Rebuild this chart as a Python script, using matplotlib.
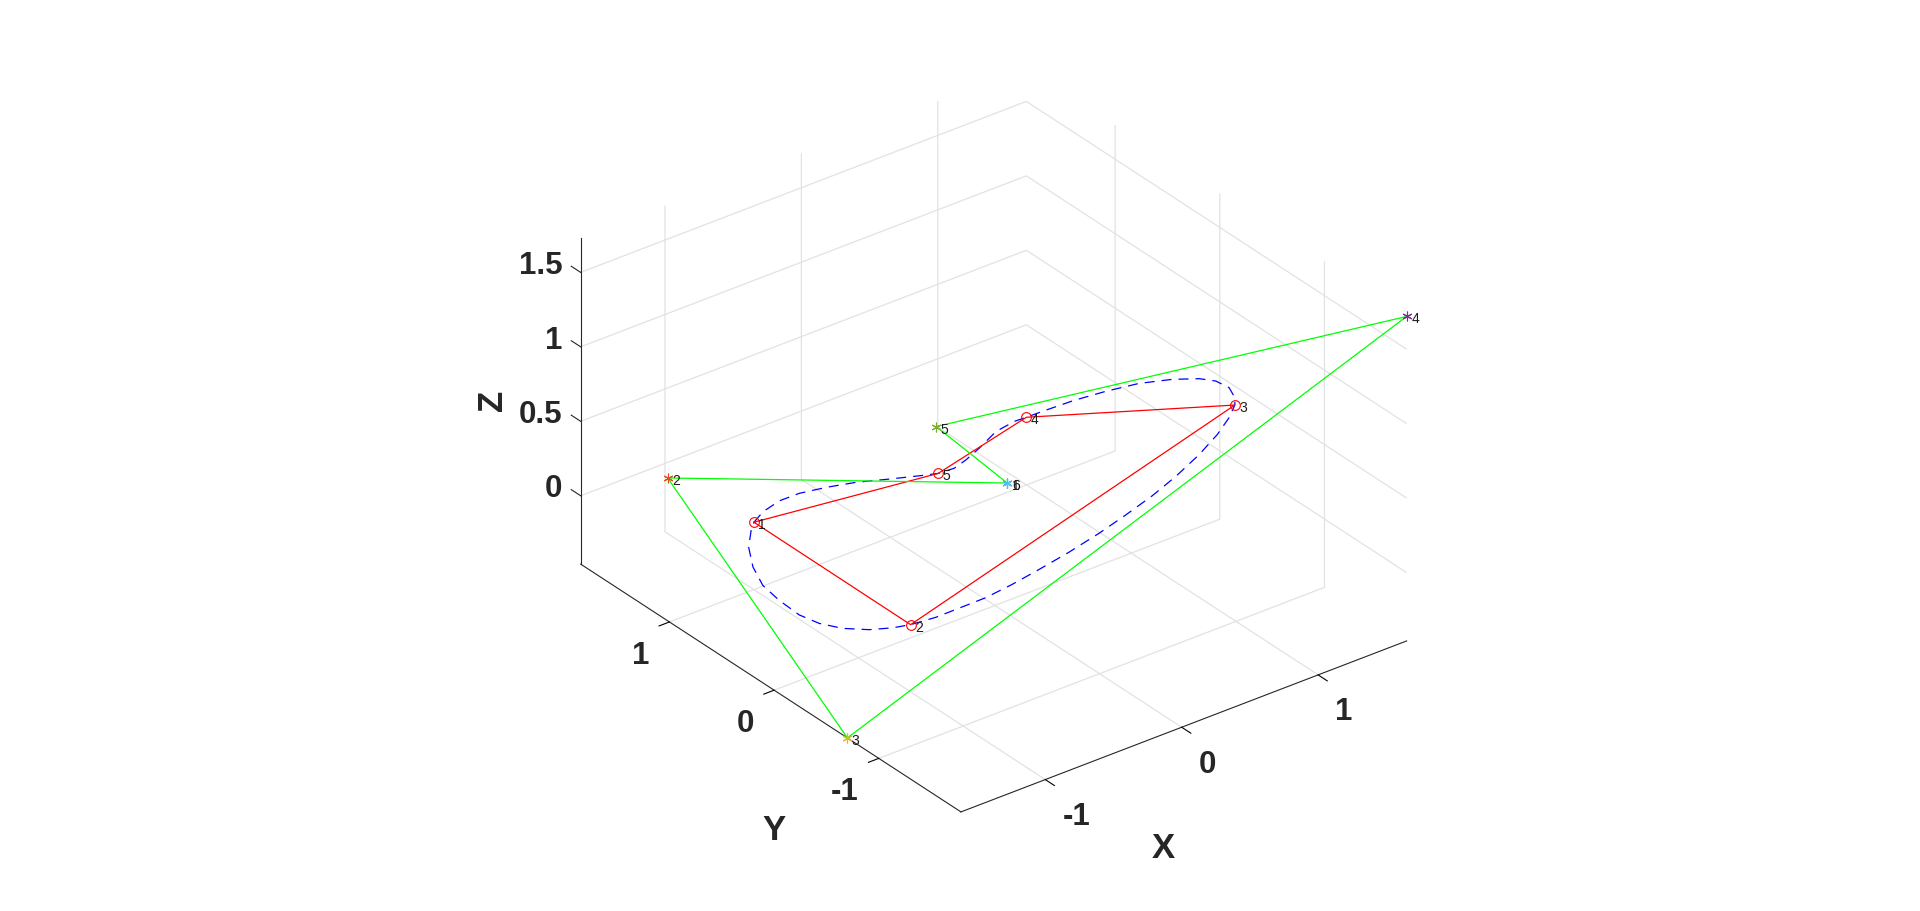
import matplotlib
matplotlib.use('Agg')
import matplotlib.pyplot as plt
from mpl_toolkits.mplot3d import proj3d

plt.rcParams['font.family'] = ['Liberation Sans', 'DejaVu Sans']
plt.rcParams['grid.color'] = '#e2e2e2'
plt.rcParams['grid.linewidth'] = 0.9

# Axis limits and ticks
x_lim = [-1.618, 1.649]
y_lim = [-1.785, 1.848]
z_lim = [-0.459, 1.73]
x_ticks = [-1, 0, 1]
y_ticks = [-1, 0, 1]
z_ticks = [0, 0.5, 1, 1.5]
x_tick_labels = ['-1', '0', '1']
y_tick_labels = ['-1', '0', '1']
z_tick_labels = ['0', '0.5', '1', '1.5']

# Green path with the star markers
green_x = [0.124, -1.407, -1.618, 1.649, 0.196, 0.124]
green_y = [0.043, 1.292, -0.70, -1.785, 0.816, 0.043]
green_z = [0.30, 0.30, -0.459, 1.72, 0.30, 0.30]
green_labels = ['1', '2', '3', '4', '5', '6']
star_colors = ['#0072BD', '#D95319', '#EDB120', '#7E2F8E', '#77AC30', '#4DBEEE']

# Red closed path with the circle markers
red_x = [-0.852, -1.368, 1.416, 0.500, -0.249]
red_y = [1.191, -0.978, -0.447, 0.350, 0.217]
red_z = [-0.146, 0.341, 0.594, 0.469, 0.416]
red_labels = ['1', '2', '3', '4', '5']

# Blue dashed closed curve
curve_x = [-0.852, -0.766, -0.665, -0.586, -0.508, -0.432, -0.365, -0.301, -0.249, -0.149,
           -0.043, 0.093, 0.278, 0.423, 0.500, 0.606, 0.810, 1.001, 1.188, 1.349,
           1.461, 1.510, 1.516, 1.468, 1.416, 1.302, 1.136, 0.921, 0.674, 0.443,
           0.202, -0.035, -0.288, -0.531, -0.741, -0.942, -1.133, -1.279, -1.368, -1.416,
           -1.459, -1.486, -1.481, -1.448, -1.372, -1.288, -1.170, -1.034, -0.912, -0.852]
curve_y = [1.191, 1.217, 1.190, 1.103, 0.949, 0.762, 0.533, 0.329, 0.217, 0.194,
           0.220, 0.270, 0.351, 0.364, 0.350, 0.334, 0.297, 0.242, 0.170, 0.062,
           -0.049, -0.143, -0.262, -0.381, -0.447, -0.540, -0.644, -0.750, -0.849, -0.925,
           -0.986, -1.039, -1.082, -1.111, -1.131, -1.138, -1.117, -1.101, -0.978, -0.866,
           -0.700, -0.481, -0.253, -0.018, 0.271, 0.538, 0.786, 1.005, 1.139, 1.191]
curve_z = [-0.146, -0.118, -0.067, -0.005, 0.078, 0.171, 0.274, 0.367, 0.416, 0.426,
           0.433, 0.441, 0.451, 0.462, 0.469, 0.479, 0.498, 0.517, 0.537, 0.557,
           0.573, 0.583, 0.591, 0.594, 0.594, 0.591, 0.584, 0.573, 0.559, 0.545,
           0.529, 0.513, 0.495, 0.477, 0.461, 0.445, 0.428, 0.415, 0.341, 0.285,
           0.212, 0.130, 0.057, -0.005, -0.067, -0.118, -0.149, -0.163, -0.154, -0.146]

# Same view as the default 3D view of the original
fig = plt.figure(figsize=(19.2, 9.12), dpi=100)
ax = fig.add_axes([531.5 / 1920, 9.3 / 912, 900 / 1920, 900 / 912], projection='3d', proj_type='ortho')
ax.view_init(elev=30, azim=-127.5)
ax.set_xlim(x_lim, view_margin=0)
ax.set_ylim(y_lim, view_margin=0)
ax.set_zlim(z_lim, view_margin=0)
ax.set_box_aspect((x_lim[1] - x_lim[0], y_lim[1] - y_lim[0], z_lim[1] - z_lim[0]), zoom=0.993)
ax.patch.set_alpha(0)


def label_at(x, y, z, text, dx, dy, **kw):
    # Text placed some pixels away from a 3D point
    px, py, _ = proj3d.proj_transform(x, y, z, ax.get_proj())
    ax.annotate(text, (px, py), xytext=(dx, dy), textcoords='offset pixels', **kw)


ax.plot(curve_x, curve_y, curve_z, color='#0000ff', lw=0.9, linestyle=(0, (8, 5.6)))
ax.plot(red_x + red_x[:1], red_y + red_y[:1], red_z + red_z[:1], color='#ff0000', lw=0.9)
ax.plot(green_x, green_y, green_z, color='#00ff00', lw=0.9)

small = dict(fontsize=10, color='#1a1a1a', ha='left', va='baseline')
for i in range(len(red_x)):
    ax.plot([red_x[i]], [red_y[i]], [red_z[i]], marker='o', ms=7, mfc='none', mec='#ff0000', mew=0.8, ls='')
    label_at(red_x[i], red_y[i], red_z[i], red_labels[i], 4.5, -6, **small)

for i in range(len(green_x)):
    ax.plot([green_x[i]], [green_y[i]], [green_z[i]], marker=(6, 2), ms=7, mec=star_colors[i], mew=0.8, ls='')
    label_at(green_x[i], green_y[i], green_z[i], green_labels[i], 4.5, -6, **small)

ax.set_xticks(x_ticks)
ax.set_yticks(y_ticks)
ax.set_zticks(z_ticks)
ax.set_xticklabels([])
ax.set_yticklabels([])
ax.set_zticklabels([])

for axis in [ax.xaxis, ax.yaxis, ax.zaxis]:
    axis.pane.fill = False
    axis.pane.set_edgecolor((1, 1, 1, 0))
    axis.line.set_color('#262626')
    axis.line.set_linewidth(0.8)
    axis._axinfo['tick']['color'] = '#262626'
    axis._axinfo['tick']['outward_factor'] = 0
    axis._axinfo['tick']['linewidth'] = {True: 0.8, False: 0.5}

ax.xaxis._axinfo['tick']['inward_factor'] = 0.3
ax.yaxis._axinfo['tick']['inward_factor'] = 0.29
ax.zaxis._axinfo['tick']['inward_factor'] = 0

# z ticks run along y in the original, mplot3d draws them along x
for t in z_ticks:
    ax.plot([x_lim[0], x_lim[0]], [y_lim[1], y_lim[1] + 0.09], [t, t], color='#262626', lw=0.8)

# Tick labels
big = dict(fontsize=22.5, fontweight='bold', color='#262626', va='baseline')
for t, s in zip(x_ticks, x_tick_labels):
    label_at(t, y_lim[0], z_lim[0], s, 17, -44.5, ha='left', **big)
for t, s in zip(y_ticks, y_tick_labels):
    label_at(x_lim[0], t, z_lim[0], s, -20, -40.7, ha='right', **big)
for t, s in zip(z_ticks, z_tick_labels):
    label_at(x_lim[0], y_lim[1], t, s, -18.4, -0.7, ha='right', **big)

# Axis labels
title_font = dict(fontsize=25, fontweight='bold', color='#262626', ha='center', va='center')
x_mid = (x_lim[0] + x_lim[1]) / 2
y_mid = (y_lim[0] + y_lim[1]) / 2
z_mid = (z_lim[0] + z_lim[1]) / 2
label_at(x_mid, y_lim[0], z_lim[0], 'X', -20.7, -121, **title_font)
label_at(x_lim[0], y_mid, z_lim[0], 'Y', 3.5, -141, **title_font)
label_at(x_lim[0], y_lim[1], z_mid, 'Z', -88.5, 2, rotation=90, **title_font)

fig.savefig('out.png', dpi=100)
